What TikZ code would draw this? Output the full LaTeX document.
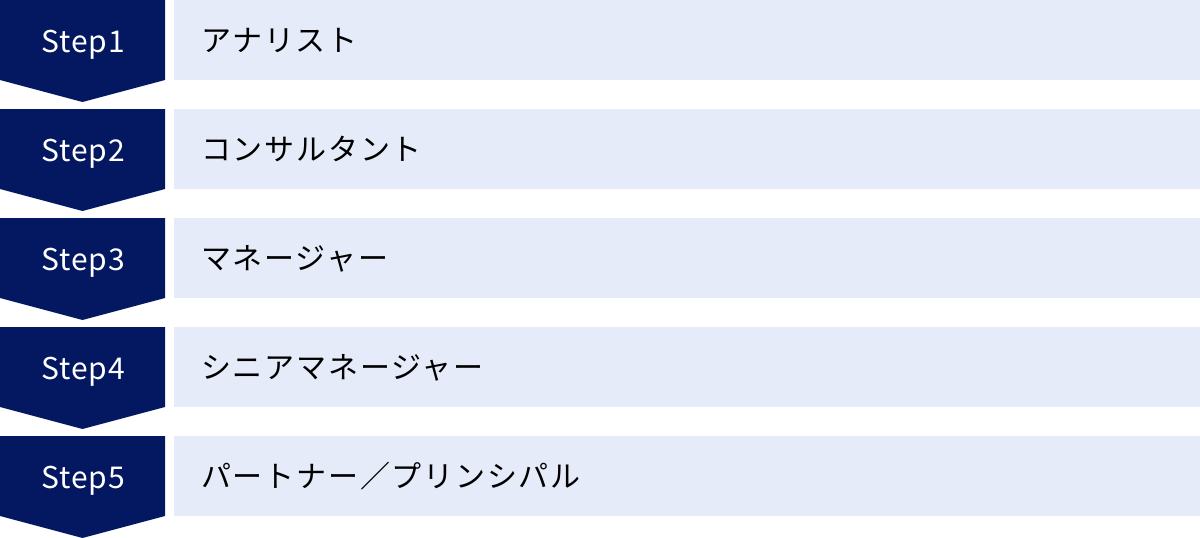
\documentclass[tikz,border=0pt]{standalone}
\usepackage{fontspec}
\setmainfont{Noto Sans CJK JP}
\definecolor{navy}{HTML}{041862}
\definecolor{lightbox}{HTML}{E5EBF8}
\tikzset{
  stepshape/.style={fill=navy, draw=none},
  steplabel/.style={text=white, font=\fontsize{30}{34}\selectfont\addfontfeatures{LetterSpace=3}, inner sep=0pt, anchor=base},
  rolebox/.style={fill=lightbox, draw=none, minimum width=1026pt, minimum height=80pt, inner sep=0pt, anchor=north west},
  roletext/.style={text=black, font=\fontsize{30}{34}\selectfont\addfontfeatures{LetterSpace=6}, inner sep=0pt, anchor=base west}
}
\begin{document}
\begin{tikzpicture}[x=1pt,y=1pt]
\useasboundingbox (0,0) rectangle (1200,-538);
\foreach \i/\role in {1/アナリスト,2/コンサルタント,3/マネージャー,4/シニアマネージャー,5/パートナー／プリンシパル}{
  \pgfmathsetmacro{\top}{-(\i-1)*109}
  \fill[stepshape] (0,\top) -- (165,\top) -- (165,\top-80) -- (82.5,\top-102) -- (0,\top-80) -- cycle;
  \node[steplabel] (s\i) at (83,\top-52.3) {Step\i};
  \node[rolebox] (b\i) at (174,\top) {};
  \node[roletext] (t\i) at (201,\top-51.5) {\role};
}
\end{tikzpicture}
\end{document}
